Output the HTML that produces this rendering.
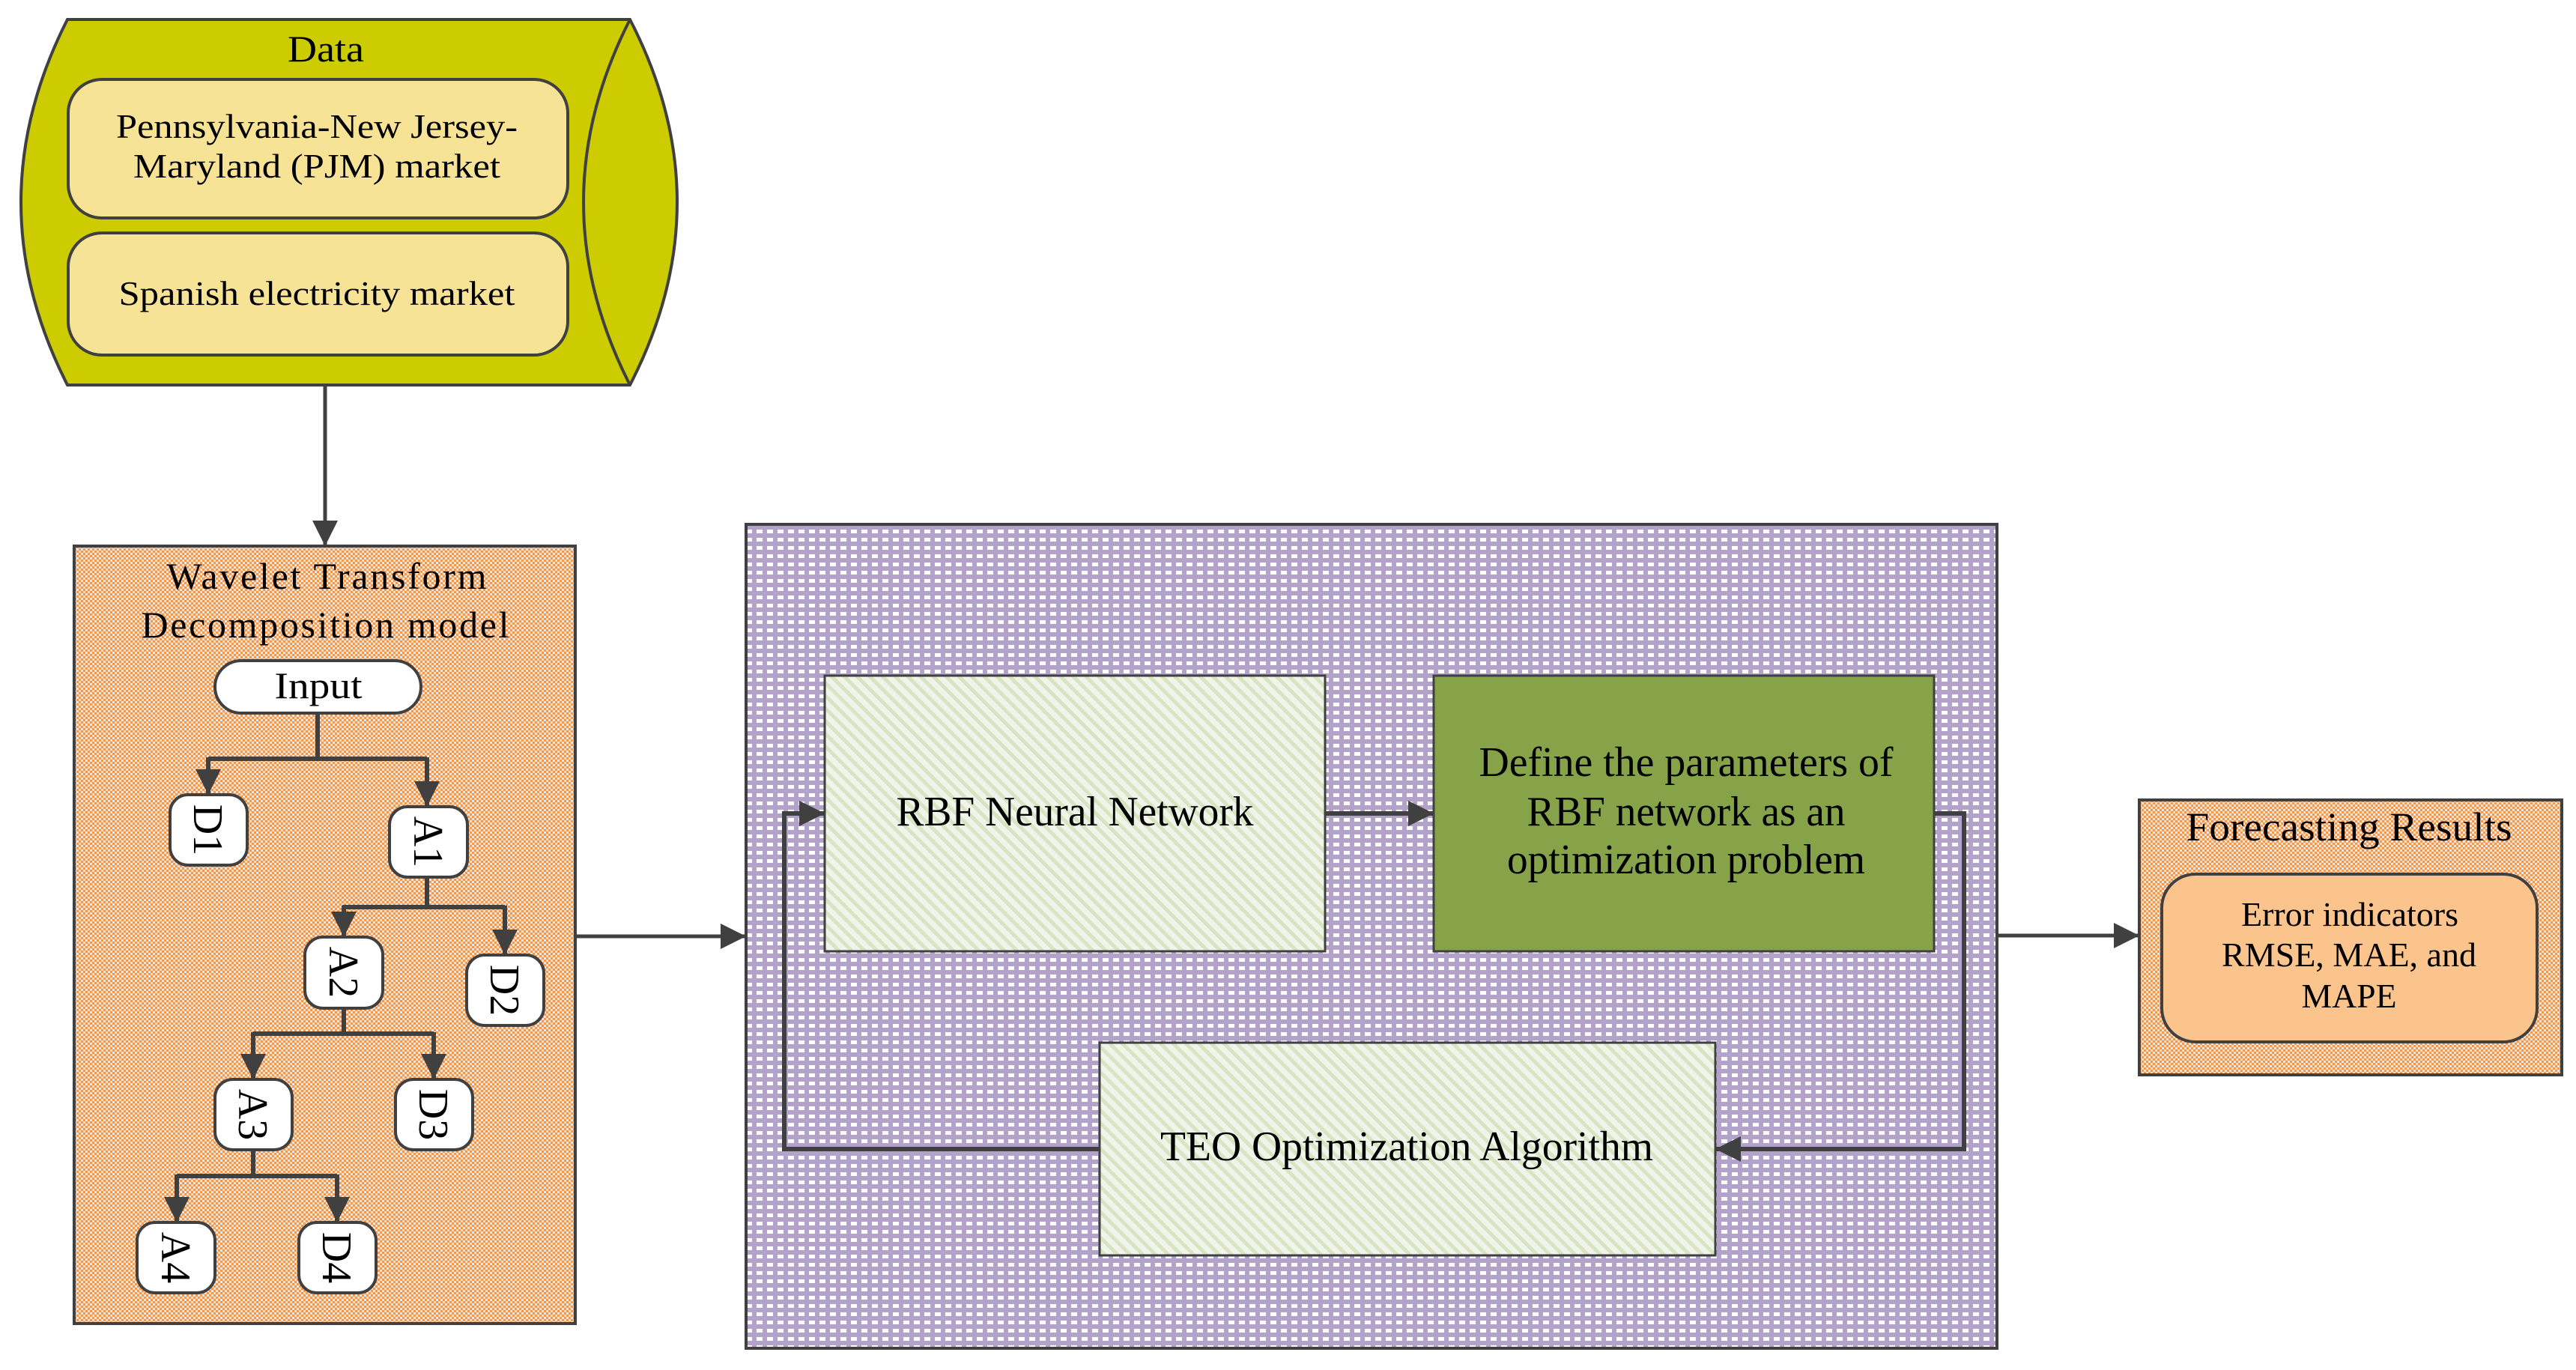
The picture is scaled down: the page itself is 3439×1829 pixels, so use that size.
<!DOCTYPE html>
<html><head><meta charset="utf-8"><style>
html,body{margin:0;padding:0;background:#fff;}
svg{display:block;}
text{font-family:"Liberation Serif",serif;fill:#000;}
</style></head><body>
<svg width="3439" height="1829" viewBox="0 0 3439 1829" xmlns="http://www.w3.org/2000/svg">
<defs>
<pattern id="chk" width="6" height="6" patternUnits="userSpaceOnUse">
<rect width="6" height="6" fill="#f79646"/>
<rect x="0" y="0" width="3" height="3" fill="#fbe3d0"/>
<rect x="3" y="3" width="3" height="3" fill="#fbe3d0"/>
</pattern>
<pattern id="pur" width="14" height="11" patternUnits="userSpaceOnUse">
<rect width="14" height="11" fill="#b3a2c9"/>
<rect x="2" y="3" width="8" height="5" fill="#ffffff"/>
</pattern>
<pattern id="hat" width="12" height="12" patternUnits="userSpaceOnUse" patternTransform="rotate(-45)">
<rect width="12" height="12" fill="#f1f4ea"/>
<rect x="0" y="0" width="5" height="12" fill="#d9e5c2"/>
</pattern>
<marker id="ah" markerUnits="userSpaceOnUse" markerWidth="36" markerHeight="36" refX="34" refY="17" orient="auto">
<path d="M0,0 L34,17 L0,34 z" fill="#404040"/>
</marker>
</defs>

<!-- Data cylinder -->
<path d="M90,26 L841,26 Q967,270 841,514 L90,514 Q-34,270 90,26 z" fill="#cccc00" stroke="#404040" stroke-width="4"/>
<path d="M841,26 Q717,270 841,514" fill="none" stroke="#404040" stroke-width="4"/>
<text x="435" y="82" font-size="50" text-anchor="middle" textLength="102" lengthAdjust="spacingAndGlyphs">Data</text>
<rect x="91" y="106" width="667" height="185" rx="45" fill="#f7e396" stroke="#404040" stroke-width="4"/>
<text x="423" y="184" font-size="46" text-anchor="middle" textLength="536" lengthAdjust="spacingAndGlyphs">Pennsylvania-New Jersey-</text>
<text x="423" y="237" font-size="46" text-anchor="middle" textLength="490" lengthAdjust="spacingAndGlyphs">Maryland (PJM) market</text>
<rect x="91" y="311" width="667" height="163" rx="45" fill="#f7e396" stroke="#404040" stroke-width="4"/>
<text x="423" y="407" font-size="46" text-anchor="middle" textLength="529" lengthAdjust="spacingAndGlyphs">Spanish electricity market</text>

<line x1="434" y1="514" x2="434" y2="729" stroke="#404040" stroke-width="5" marker-end="url(#ah)"/>

<!-- Wavelet box -->
<rect x="99" y="729" width="669" height="1038" fill="url(#chk)" stroke="#404040" stroke-width="4"/>
<text x="436" y="786" font-size="50" text-anchor="middle" textLength="427" lengthAdjust="spacing">Wavelet Transform</text>
<text x="434" y="851" font-size="50" text-anchor="middle" textLength="491" lengthAdjust="spacing">Decomposition model</text>
<rect x="287" y="882" width="275" height="70" rx="35" fill="#fff" stroke="#404040" stroke-width="4"/>
<text x="425" y="932" font-size="50" text-anchor="middle" textLength="117" lengthAdjust="spacingAndGlyphs">Input</text>

<g stroke="#404040" stroke-width="6" fill="none">
<polyline points="424,952 424,1013"/>
<polyline points="278,1013 570,1013"/>
<line x1="278" y1="1011" x2="278" y2="1061" marker-end="url(#ah)"/>
<line x1="570" y1="1011" x2="570" y2="1077" marker-end="url(#ah)"/>
<polyline points="570,1171 570,1211"/>
<polyline points="457,1211 674,1211"/>
<line x1="459" y1="1209" x2="459" y2="1251" marker-end="url(#ah)"/>
<line x1="674" y1="1209" x2="674" y2="1275" marker-end="url(#ah)"/>
<polyline points="459,1346 459,1380"/>
<polyline points="338,1380 579,1380"/>
<line x1="338" y1="1378" x2="338" y2="1441" marker-end="url(#ah)"/>
<line x1="579" y1="1378" x2="579" y2="1441" marker-end="url(#ah)"/>
<polyline points="338,1535 338,1570"/>
<polyline points="236,1570 450,1570"/>
<line x1="236" y1="1568" x2="236" y2="1632" marker-end="url(#ah)"/>
<line x1="450" y1="1568" x2="450" y2="1632" marker-end="url(#ah)"/>
</g>

<g stroke="#404040" stroke-width="4" fill="#fff">
<rect x="227" y="1061" width="103" height="94" rx="24"/>
<rect x="520" y="1077" width="104" height="94" rx="24"/>
<rect x="407" y="1251" width="104" height="95" rx="24"/>
<rect x="623" y="1275" width="103" height="94" rx="24"/>
<rect x="287" y="1441" width="103" height="94" rx="24"/>
<rect x="528" y="1441" width="103" height="94" rx="24"/>
<rect x="183" y="1632" width="104" height="94" rx="24"/>
<rect x="399" y="1632" width="103" height="94" rx="24"/>
</g>
<g font-size="56" text-anchor="middle">
<text transform="translate(278,1108) rotate(90)" y="19">D1</text>
<text transform="translate(572,1124) rotate(90)" y="19">A1</text>
<text transform="translate(459,1298) rotate(90)" y="19">A2</text>
<text transform="translate(674,1322) rotate(90)" y="19">D2</text>
<text transform="translate(338,1488) rotate(90)" y="19">A3</text>
<text transform="translate(579,1488) rotate(90)" y="19">D3</text>
<text transform="translate(235,1679) rotate(90)" y="19">A4</text>
<text transform="translate(450,1679) rotate(90)" y="19">D4</text>
</g>

<line x1="768" y1="1250" x2="996" y2="1250" stroke="#404040" stroke-width="5" marker-end="url(#ah)"/>

<!-- Purple box -->
<rect x="996" y="700" width="1670" height="1100" fill="url(#pur)" stroke="#404040" stroke-width="4"/>
<rect x="1101" y="902" width="668" height="368" fill="url(#hat)" stroke="#404040" stroke-width="3"/>
<text x="1435" y="1102" font-size="56" text-anchor="middle" textLength="477" lengthAdjust="spacingAndGlyphs">RBF Neural Network</text>
<rect x="1914" y="902" width="668" height="368" fill="#86a34a" stroke="#404040" stroke-width="3"/>
<text x="2251" y="1036" font-size="56" text-anchor="middle" textLength="553" lengthAdjust="spacingAndGlyphs">Define the parameters of</text>
<text x="2251" y="1102" font-size="56" text-anchor="middle" textLength="425" lengthAdjust="spacingAndGlyphs">RBF network as an</text>
<text x="2251" y="1166" font-size="56" text-anchor="middle" textLength="478" lengthAdjust="spacingAndGlyphs">optimization problem</text>
<rect x="1468" y="1392" width="822" height="284" fill="url(#hat)" stroke="#404040" stroke-width="3"/>
<text x="1878" y="1549" font-size="56" text-anchor="middle" textLength="658" lengthAdjust="spacingAndGlyphs">TEO Optimization Algorithm</text>

<g stroke="#404040" stroke-width="6" fill="none">
<line x1="1769" y1="1086" x2="1914" y2="1086" marker-end="url(#ah)"/>
<polyline points="2582,1086 2622,1086 2622,1534 2290,1534" marker-end="url(#ah)"/>
<polyline points="1468,1534 1047,1534 1047,1086 1101,1086" marker-end="url(#ah)"/>
</g>

<line x1="2666" y1="1249" x2="2856" y2="1249" stroke="#404040" stroke-width="5" marker-end="url(#ah)"/>

<!-- Forecasting -->
<rect x="2856" y="1068" width="564" height="367" fill="url(#chk)" stroke="#404040" stroke-width="4"/>
<text x="3136" y="1122" font-size="54" text-anchor="middle" textLength="435" lengthAdjust="spacingAndGlyphs">Forecasting Results</text>
<rect x="2886" y="1167" width="501" height="224" rx="45" fill="#fac48c" stroke="#404040" stroke-width="4"/>
<text x="3137" y="1236" font-size="46" text-anchor="middle" textLength="290" lengthAdjust="spacingAndGlyphs">Error indicators</text>
<text x="3136" y="1290" font-size="46" text-anchor="middle" textLength="340" lengthAdjust="spacingAndGlyphs">RMSE, MAE, and</text>
<text x="3136" y="1345" font-size="46" text-anchor="middle" textLength="127" lengthAdjust="spacingAndGlyphs">MAPE</text>
</svg>
</body></html>
